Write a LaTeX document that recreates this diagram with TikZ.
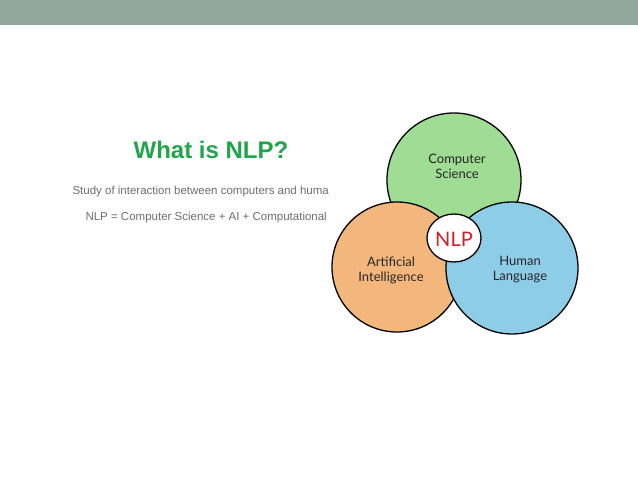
\documentclass[tikz,border=0pt]{standalone}
\usepackage{fontspec}
\setmainfont{Liberation Sans}
\newfontfamily\lato{Lato}
\definecolor{bar}{HTML}{93A69B}
\definecolor{ttl}{HTML}{1FA64A}
\definecolor{txt}{HTML}{6E6E6E}
\definecolor{cg}{HTML}{9EDD93}
\definecolor{co}{HTML}{F3B77D}
\definecolor{cb}{HTML}{8ECDE8}
\definecolor{nlpred}{HTML}{D0202A}
\begin{document}
\begin{tikzpicture}[x=1pt,y=-1pt,
  venn/.style={draw=black,line width=1.3pt},
  lbl/.style={font=\lato\fontsize{13}{15}\selectfont,align=center,text=black!85}]
\useasboundingbox (0,0) rectangle (638,478);
\fill[white] (0,0) rectangle (638,478);
\fill[bar] (0,0) rectangle (638,25);
\node[font=\bfseries\fontsize{24}{28}\selectfont,text=ttl] (title) at (211,150) {What is NLP?};
\begin{scope}
\clip (60,170) rectangle (328,230);
\node[anchor=west,font=\fontsize{11.5}{13}\selectfont,text=txt] (l1) at (69,192) {Study of interaction between computers and human language};
\node[anchor=west,font=\fontsize{11.5}{13}\selectfont,text=txt] (l2) at (82,218) {NLP = Computer Science + AI + Computational Linguistics};
\end{scope}
\draw[venn,fill=cg] (454,180) circle (67);
\draw[venn,fill=co] (397,267) circle (65);
\draw[venn,fill=cb] (512,268) circle (66);
\draw[venn,fill=white] (454,238) ellipse (27 and 24);
\node[lbl] (cs) at (457,166) {Computer\\Science};
\node[lbl] (ai) at (391,270) {Artificial\\Intelligence};
\node[lbl] (hl) at (520,270) {Human\\Language};
\node[font=\lato\fontsize{20}{22}\selectfont,text=nlpred] (nlp) at (454,239) {NLP};
\end{tikzpicture}
\end{document}
